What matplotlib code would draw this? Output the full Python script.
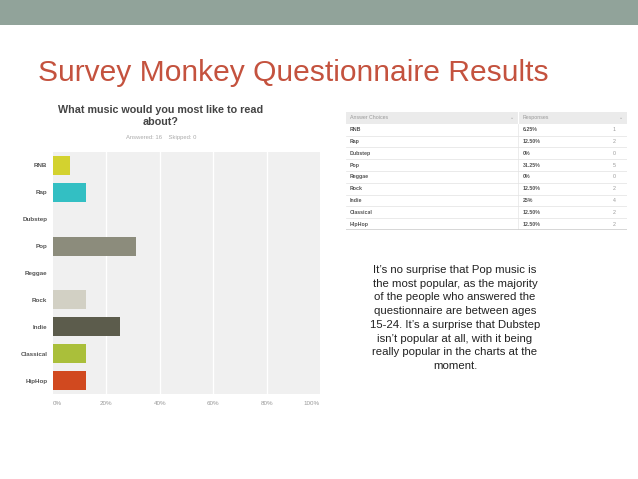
import matplotlib
matplotlib.use("Agg")
import matplotlib.pyplot as plt
from matplotlib.patches import Rectangle

W, H = 638, 479

# ---- data ----
categories = ["RNB", "Rap", "Dubstep", "Pop", "Reggae", "Rock", "Indie", "Classical", "HipHop"]
percents = [6.25, 12.5, 0, 31.25, 0, 12.5, 25, 12.5, 12.5]
counts = [1, 2, 0, 5, 0, 2, 4, 2, 2]
bar_colors = ["#D3D22F", "#33BFC3", "#8C8C7C", "#8C8C7C", "#8C8C7C",
              "#D2D0C4", "#5C5C4C", "#AABF3A", "#D1491F"]
xticks = [0, 20, 40, 60, 80, 100]

slide_title = "Survey Monkey Questionnaire Results"
chart_title = "What music would you most like to read\nabout?"
answered = "Answered: 16    Skipped: 0"
comment = ("It\u2019s no surprise that Pop music is\n"
           "the most popular, as the majority\n"
           "of the people who answered the\n"
           "questionnaire are between ages\n"
           "15-24. It\u2019s a surprise that Dubstep\n"
           "isn\u2019t popular at all, with it being\n"
           "really popular in the charts at the\n"
           "moment.")

plt.rcParams["font.family"] = ["Liberation Sans", "DejaVu Sans"]

fig = plt.figure(figsize=(W / 100, H / 100), dpi=100)
fig.patch.set_facecolor("white")


def box(x0, y0, x1, y1):
    # pixel box (top-left origin) -> figure fraction rect
    return [x0 / W, 1 - y1 / H, (x1 - x0) / W, (y1 - y0) / H]


# header band
fig.patches.append(Rectangle((0, 1 - 25 / H), 1, 25 / H, transform=fig.transFigure,
                             facecolor="#91A39A", edgecolor="none"))

fig.text(38 / W, 1 - 73 / H, slide_title, fontsize=21.6, color="#C4523E",
         ha="left", va="center")

# ---- bar chart ----
ax = fig.add_axes(box(53, 152, 320, 394))
ax.set_facecolor("#F0F0F0")
ypos = list(range(len(categories)))
ax.barh(ypos, percents, height=0.7, color=bar_colors, zorder=3)
ax.set_xlim(0, 100)
ax.set_ylim(len(categories) - 0.5, -0.5)
for g in xticks[1:-1]:
    ax.axvline(g, color="white", lw=1, zorder=1)
for s in ax.spines.values():
    s.set_visible(False)
ax.set_yticks(ypos)
ax.set_yticklabels(categories, fontsize=4.5, fontweight="bold", color="#555555")
ax.set_xticks(xticks)
ax.set_xticklabels([f"{t}%" for t in xticks], fontsize=4.5, color="#999999")
labs = ax.get_xticklabels()
labs[0].set_ha("left")
labs[-1].set_ha("right")
ax.tick_params(axis="x", length=0, pad=5)
ax.tick_params(axis="y", length=0, pad=4)

fig.text(161 / W, 1 - 116 / H, chart_title, fontsize=7.75, fontweight="bold",
         color="#444444", ha="center", va="center", linespacing=1.2)
fig.text(161 / W, 1 - 138 / H, answered, fontsize=4.2, color="#AAAAAA",
         ha="center", va="center")

# ---- table ----
tx0, ty0, tx1, ty1 = 346, 112, 627, 230
tax = fig.add_axes(box(tx0, ty0, tx1, ty1))
tax.set_xlim(tx0, tx1)
tax.set_ylim(ty1, ty0)
tax.axis("off")
row_h = (ty1 - ty0) / (len(categories) + 1)
col_x = 518
tax.add_patch(Rectangle((tx0, ty0), tx1 - tx0, row_h, facecolor="#EBEBEB",
                        edgecolor="none"))
tax.plot([col_x, col_x], [ty0, ty0 + row_h], color="white", lw=0.8)
tax.plot([col_x, col_x], [ty0 + row_h, ty1], color="#E4E4E4", lw=0.5)
hy = ty0 + row_h / 2
tax.text(tx0 + 4, hy, "Answer Choices", fontsize=3.8, color="#999999", va="center")
tax.text(col_x - 6, hy, "\u2304", fontsize=3.5, color="#AAAAAA", va="center", ha="center")
tax.text(col_x + 5, hy, "Responses", fontsize=3.8, color="#999999", va="center")
tax.text(tx1 - 6, hy, "\u2304", fontsize=3.5, color="#AAAAAA", va="center", ha="center")
for i, (cat, p, c) in enumerate(zip(categories, percents, counts)):
    yc = ty0 + row_h * (i + 1.5)
    pct = f"{p:.0f}%" if float(p).is_integer() else f"{p:.2f}%"
    tax.text(tx0 + 4, yc, cat, fontsize=3.8, color="#555555", fontweight="bold", va="center")
    tax.text(col_x + 5, yc, pct, fontsize=3.8, color="#555555", fontweight="bold", va="center")
    tax.text(tx1 - 13, yc, str(c), fontsize=3.8, color="#999999", va="center", ha="center")
    yb = ty0 + row_h * (i + 2)
    lw = 1.2 if i == len(categories) - 1 else 0.5
    col = "#CFCFCF" if i == len(categories) - 1 else "#E2E2E2"
    tax.plot([tx0, tx1], [yb, yb], color=col, lw=lw)

# ---- comment ----
fig.text(455 / W, 1 - 318 / H, comment, fontsize=8.2, color="#222222",
         ha="center", va="center", linespacing=1.47)

fig.savefig("out.png", dpi=100)
